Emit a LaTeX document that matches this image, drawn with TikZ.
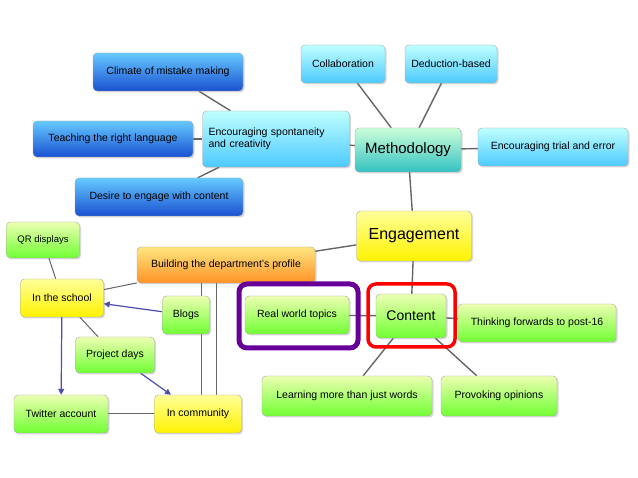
\documentclass[tikz,border=0pt]{standalone}
\usepackage{fontspec}
\setmainfont{Liberation Sans}
\usetikzlibrary{arrows.meta,shadows,backgrounds}
\begin{document}
\begin{tikzpicture}[x=1pt,y=-1pt,
 bx/.style={draw=gray!70,rounded corners=4pt,align=left,font=\fontsize{10.5}{12.5}\selectfont,inner sep=5pt,drop shadow={opacity=0.3,shadow xshift=1.5pt,shadow yshift=-1.5pt}},
 blue/.style={bx,top color=blue!35!cyan!60,bottom color=blue!70!cyan!80!black!90},
 cy/.style={bx,top color=cyan!25,bottom color=cyan!70!blue!70},
 tl/.style={bx,top color=cyan!25!green!20,bottom color=teal!60!cyan!80},
 gr/.style={bx,top color=green!25!yellow!30,bottom color=green!60!lime!80},
 ye/.style={bx,top color=yellow!40,bottom color=yellow!90!orange},
 ora/.style={bx,top color=orange!40!yellow!50,bottom color=orange!85},
 ln/.style={draw=black!60,line width=1.4pt},
 ar/.style={draw=gray!60!blue,line width=1.2pt,-{Triangle[length=6pt,width=6pt]}}]
\node[blue,minimum width=150,minimum height=38] (cl) at (168,72) {Climate of mistake making};
\node[blue,minimum width=160,minimum height=36] (te) at (113,139) {Teaching the right language};
\node[blue,minimum width=168,minimum height=38] (de) at (159,197) {Desire to engage with content};
\node[cy,minimum width=147,minimum height=56,text width=135] (es) at (276,139) {Encouraging spontaneity\\and creativity};
\node[cy,minimum width=84,minimum height=38] (co) at (343,64) {Collaboration};
\node[cy,minimum width=92,minimum height=38] (dd) at (451,64) {Deduction-based};
\node[tl,minimum width=106,minimum height=44,font=\fontsize{15}{18}\selectfont] (me) at (408,150) {Methodology};
\node[cy,minimum width=150,minimum height=38] (tr) at (553,147) {Encouraging trial and error};
\node[ye,minimum width=115,minimum height=50,font=\fontsize{16}{19}\selectfont] (en) at (414,236) {Engagement};
\node[ora,minimum width=178,minimum height=36] (bu) at (226,265) {Building the department's profile};
\node[gr,minimum width=73,minimum height=36,font=\fontsize{9.5}{11}\selectfont] (qr) at (43,240) {QR displays};
\node[ye,minimum width=83,minimum height=38] (sc) at (62,298) {In the school};
\node[gr,minimum width=47,minimum height=38] (bl) at (186,315) {Blogs};
\node[gr,minimum width=104,minimum height=38] (rw) at (297,315) {Real world topics};
\node[gr,minimum width=70,minimum height=44,font=\fontsize{14}{17}\selectfont] (ct) at (411,316) {Content};
\node[gr,minimum width=158,minimum height=38] (th) at (537,323) {Thinking forwards to post-16};
\node[gr,minimum width=79,minimum height=36] (pd) at (115,355) {Project days};
\node[gr,minimum width=94,minimum height=38] (tw) at (61,414) {Twitter account};
\node[ye,minimum width=87,minimum height=38] (ic) at (198,414) {In community};
\node[gr,minimum width=170,minimum height=40] (lm) at (347,396) {Learning more than just words};
\node[gr,minimum width=116,minimum height=40] (po) at (499,396) {Provoking opinions};
\draw[draw=violet!80!blue,line width=5pt,rounded corners=8pt] (239,284) rectangle (358,348);
\draw[draw=red,line width=3.5pt,rounded corners=8pt] (368,284) rectangle (455,347);
\begin{scope}[on background layer]
\fill[white] (0,0) rectangle (638,478);
\draw[ln] (cl) -- (es); \draw[ln] (te) -- (es); \draw[ln] (de) -- (es);
\draw[ln] (es) -- (me); \draw[ln] (co) -- (me); \draw[ln] (dd) -- (me);
\draw[ln] (me) -- (tr); \draw[ln] (me) -- (en);
\draw[ln] (en) -- (bu); \draw[ln] (en) -- (ct);
\draw[ln] (ct) -- (rw); \draw[ln] (ct) -- (th); \draw[ln] (ct) -- (lm); \draw[ln] (ct) -- (po);
\draw[ln,line width=1pt] (qr) -- (sc); \draw[ln,line width=1pt] (sc) -- (pd);
\draw[ln,line width=1pt] (tw) -- (ic);
\draw[ln,line width=1pt] (bu.south) ++(-25,0) coordinate (b1) -- (ic.north -| b1);
\draw[ln,line width=1pt] (bu.south) ++(-10,0) coordinate (b2) -- (ic.north -| b2);
\draw[ar] (bl) -- (sc);
\draw[ar] (sc) -- (tw);
\draw[ar] (pd) -- (ic);
\draw[ln,line width=1pt] (bu) -- (sc);
\end{scope}
\useasboundingbox (0,0) rectangle (638,478);
\end{tikzpicture}
\end{document}
